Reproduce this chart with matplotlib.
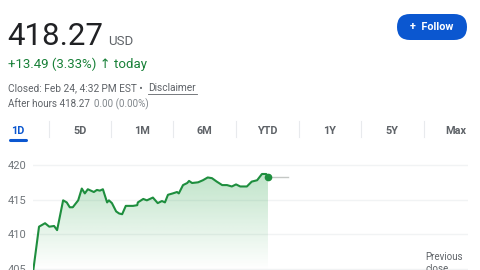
import numpy as np
import matplotlib
matplotlib.use('Agg')
import matplotlib.pyplot as plt
from matplotlib.patches import FancyBboxPatch

plt.rcParams['font.family'] = ['Roboto', 'DejaVu Sans']

# Data: minutes after 9:30 open, price #
minutes = [0, 10, 20, 27, 35, 40, 50, 56, 61, 66, 75, 81, 86, 91, 101, 106, 111, 116,
           123, 126, 131, 138, 143, 148, 154, 166, 173, 174, 183, 189, 194, 199, 207,
           214, 219, 224, 232, 239, 242, 249, 256, 259, 264, 274, 282, 290, 297, 305,
           314, 322, 330, 337, 344, 355, 363, 372, 380, 387, 390]
prices = [404.5, 411.1, 411.6, 411.1, 411.2, 410.6, 414.9, 414.6, 413.9, 413.9, 414.9,
          416.6, 415.9, 416.5, 416.1, 416.4, 416.3, 416.5, 414.6, 414.9, 414.5, 413.3,
          413.0, 412.9, 414.1, 414.1, 414.2, 414.6, 415.1, 414.9, 415.1, 415.3, 414.5,
          414.8, 414.6, 415.7, 415.9, 416.1, 415.9, 417.1, 417.4, 417.7, 417.4, 417.5,
          417.8, 418.2, 418.1, 417.6, 417.1, 417.1, 416.9, 417.2, 416.9, 416.9, 417.6,
          417.8, 418.7, 418.7, 418.27]
after_minutes = [390, 423]
after_prices = [418.27, 418.27]
yticks = [405, 410, 415, 420]
tabs = ['1D', '5D', '1M', '6M', 'YTD', '1Y', '5Y', 'Max']

W, H = 480, 270
fig = plt.figure(figsize=(W / 100, H / 100), dpi=100)
fig.patch.set_facecolor('white')

# Chart #
ax = fig.add_axes([33 / W, 0, 435 / W, 115 / H])
ax.set_facecolor('none')
for s in ax.spines.values():
    s.set_visible(False)
ax.set_xticks([])
ax.set_yticks(yticks)
ax.tick_params(axis='y', length=0, pad=5, labelsize=8, labelcolor='#70757a')
ax.grid(True, axis='y', color='#f1f3f4', lw=1)
ax.set_axisbelow(True)

# Gradient fill under the line #
poly = ax.fill_between(minutes, prices, 404.85, color='none', lw=0)
grad = np.linspace(0.32, 0.0, 256).reshape(-1, 1)
rgba = np.zeros((256, 1, 4))
rgba[..., 0] = 52 / 255
rgba[..., 1] = 168 / 255
rgba[..., 2] = 83 / 255
rgba[..., 3] = grad
img = ax.imshow(rgba, extent=[0, 390, 404.85, 419.0], aspect='auto', origin='upper', zorder=1)
img.set_clip_path(poly.get_paths()[0], transform=ax.transData)

ax.plot(minutes, prices, color='#1e8e3e', lw=1.5, zorder=3, solid_joinstyle='round')
ax.plot(after_minutes, after_prices, color='#c4c7c5', lw=1.0, zorder=2)
ax.plot(minutes[-1], prices[-1], 'o', color='#1e8e3e', ms=4.5, zorder=4)
ax.set_xlim(0, 722)
ax.set_ylim(404.85, 421.44)

# Overlay axes in pixel coordinates for the page furniture #
ov = fig.add_axes([0, 0, 1, 1])
ov.set_xlim(0, W)
ov.set_ylim(H, 0)
ov.axis('off')

# Header #
ov.text(7, 45, '418.27', fontsize=22.5, color='#202124', va='baseline')
ov.text(108, 45, 'USD', fontsize=9.5, color='#5f6368', va='baseline')
ov.text(8, 68, '+13.49 (3.33%) \u2191 today', fontsize=9.5, color='#188038', va='baseline')
ov.text(8, 91, 'Closed: Feb 24, 4:32\u2009PM EST \u2022', fontsize=7.3, color='#5f6368', va='baseline')
ov.text(148, 91, 'Disclaimer', fontsize=7.3, color='#5f6368', va='baseline')
ov.plot([148, 197], [93.5, 93.5], color='#5f6368', lw=0.6)
ov.text(8, 107, 'After hours 418.27', fontsize=7.1, color='#5f6368', va='baseline')
ov.text(94, 107, '0.00 (0.00%)', fontsize=7.1, color='#80868b', va='baseline')

# Follow button #
btn = FancyBboxPatch((397, 14), 70, 26, boxstyle='round,pad=0,rounding_size=13',
                     facecolor='#0b57d0', edgecolor='none')
ov.add_patch(btn)
ov.text(432, 27.5, '+  Follow', fontsize=7.8, color='white', ha='center', va='center',
        fontweight='semibold')

# Tabs #
tab_x = [18, 80, 142, 204, 267, 330, 392, 456]
for i, t in enumerate(tabs):
    ov.text(tab_x[i], 130.5, t, fontsize=7.8, ha='center', va='center', fontweight='semibold',
            color='#0b57d0' if i == 0 else '#5f6368')
for sx in [49, 111, 173, 236, 299, 361, 424]:
    ov.plot([sx, sx], [121, 137], color='#e8eaed', lw=0.8)
ov.plot([10, 26], [139.5, 139.5], color='#0b57d0', lw=2.2, solid_capstyle='round')

ov.text(425, 252, 'Previous\nclose', fontsize=7, color='#5f6368', va='top', linespacing=1.3)

fig.savefig('out.png', dpi=100, facecolor='white')
